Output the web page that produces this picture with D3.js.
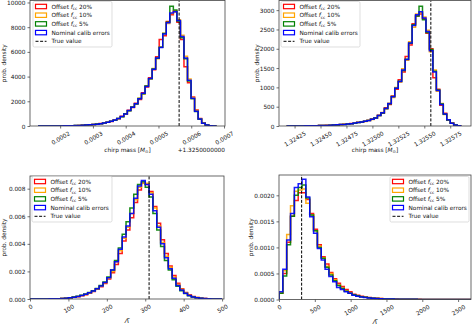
<!DOCTYPE html>
<html><head><meta charset="utf-8">
<script src="https://cdn.jsdelivr.net/npm/d3@7"></script>
<style>body{margin:0;background:#fff}svg{display:block}text{font-family:"DejaVu Sans",sans-serif;fill:#111}</style>
</head><body><svg id="c" width="474" height="326"></svg>
<script>
// ---------- DATA ----------
const legendLabels = ["Offset f_cc 20%", "Offset f_cc 10%", "Offset f_cc 5%", "Nominal calib errors", "True value"];
const seriesColors = ["red", "orange", "green", "blue"];

// Panel 1: chirp mass (offset from 1.325), 50 bins
const p1BinRange = [0.000135, 0.000675];
const p1Red = [2,3,4,5,7,8,11,13,19,25, 30,44,52,75,90,120,145,195,235,310, 370,490,590,780,960,1280,1500,1850,2150,2700, 3150,3900,4550,5600,7000,7300,8450,9000,9300,8400, 7000,4800,3500,2350,1300,600,240,90,30,8];
const p1Orange = [2,3,3,4,6,9,10,15,17,25, 33,40,57,70,95,115,155,185,245,295, 390,470,610,740,1000,1230,1540,1780,2250,2600, 3250,3800,4650,5450,6400,7500,8300,9100,9200,8600, 7350,5650,3800,2300,1250,580,230,85,25,7];
const p1Green = [2,3,3,5,6,8,10,14,19,23, 33,41,56,71,93,117,152,188,242,298, 385,475,605,755,990,1240,1530,1790,2230,2620, 3230,3830,4620,5480,6380,7480,8400,9700,9400,8500, 7150,5450,3650,2200,1180,550,215,78,24,6];
const p1Blue = [2,3,3,5,6,8,10,14,18,24, 32,42,55,72,92,118,150,190,240,300, 380,480,600,760,980,1250,1520,1800,2200,2650, 3200,3850,4600,5500,6350,7450,8350,9150,9250,8550, 7250,5500,3700,2250,1200,560,220,80,25,6];
const p1True = 0.000563;
const p1XTicks = [0.0002, 0.0003, 0.0004, 0.0005, 0.0006, 0.0007];
const p1YTicks = [0, 2000, 4000, 6000, 8000, 10000];

// Panel 2: chirp mass absolute
const p2BinRange = [1.32418, 1.32585];
const p2Red = [1,2,2,3,3,4,6,7,8,11, 12,17,19,26,28,38,44,48,63,72, 95,100,125,140,180,205,280,330,470,560, 780,950,1200,1400,1800,2100,2650,2850,2900,2780, 2400,2000,1250,950,540,330,150,75,22,9];
const p2Orange = [1,1,2,3,3,5,5,7,8,10, 14,15,21,23,31,35,43,52,58,78, 88,108,118,150,170,215,265,350,440,590, 740,1000,1130,1480,1700,2180,2560,2900,2940,2820, 2480,1920,1450,900,580,300,165,68,27,7];
const p2Green = [1,1,2,2,3,4,5,6,9,10, 13,16,20,25,29,37,41,51,61,74, 91,104,122,143,177,208,272,338,455,575, 765,975,1160,1440,1730,2140,2620,2850,3100,2750, 2420,1980,1420,930,570,305,158,72,24,8];
const p2Blue = [1,1,2,2,3,4,5,6,8,10, 13,16,20,24,30,36,42,50,60,75, 90,105,120,145,175,210,270,340,450,580, 760,980,1150,1450,1720,2150,2600,2880,2960,2800, 2450,1950,1400,920,560,310,160,70,25,8];
const p2True = 1.325563;
const p2XTicks = [1.32425, 1.32450, 1.32475, 1.32500, 1.32525, 1.32550, 1.32575];
const p2YTicks = [0, 500, 1000, 1500, 2000, 2500, 3000];

// Panel 3: Lambda-tilde, bins of 10 over 0-500
const p3BinRange = [0, 500];
const p3Red = [0,0,0.000002,0.000003,0.000006,0.000009,0.000014,0.000022,0.000036,0.000055, 0.00008,0.00012,0.00017,0.00024,0.00031,0.00042,0.00054,0.0007,0.00088,0.00112, 0.00145,0.0019,0.0025,0.0033,0.0042,0.005,0.0059,0.007,0.0079,0.0084, 0.0083,0.0078,0.0067,0.0055,0.0043,0.0033,0.0024,0.0017,0.00115,0.00075, 0.00048,0.0003,0.00018,0.00011,0.00006,0.000035,0.000018,0.000008,0.000002,0];
const p3Orange = [0,0,0.000002,0.000004,0.000006,0.00001,0.000015,0.000024,0.000038,0.000058, 0.000088,0.00013,0.00018,0.00025,0.00033,0.00044,0.00057,0.00073,0.00093,0.00118, 0.0015,0.002,0.0027,0.0035,0.0044,0.0052,0.0062,0.0072,0.0081,0.0084, 0.0084,0.0077,0.0066,0.0053,0.0041,0.0031,0.0023,0.0016,0.00105,0.0007, 0.00045,0.00028,0.00016,0.0001,0.000055,0.00003,0.000016,0.000007,0,0];
const p3Green = [0,0,0.000002,0.000004,0.000007,0.000011,0.000017,0.000027,0.000042,0.000063, 0.000095,0.00014,0.0002,0.00027,0.00036,0.00047,0.0006,0.00077,0.00098,0.00124, 0.0016,0.0021,0.0028,0.0037,0.0047,0.0056,0.0066,0.0076,0.0083,0.0085, 0.0081,0.0074,0.0062,0.005,0.0038,0.0028,0.0021,0.0014,0.00092,0.0006, 0.00039,0.00024,0.00014,0.000085,0.000048,0.000027,0.000013,0.000005,0,0];
const p3Blue = [0,0,0.000002,0.000004,0.000006,0.00001,0.000015,0.000025,0.00004,0.00006, 0.00009,0.00013,0.00019,0.00026,0.00034,0.00045,0.00058,0.00075,0.00095,0.0012, 0.00155,0.0021,0.0027,0.0036,0.0045,0.0053,0.0062,0.0073,0.0082,0.0086, 0.0083,0.0076,0.0064,0.0052,0.0040,0.0030,0.0022,0.0015,0.00098,0.00065, 0.00042,0.00026,0.00015,0.00009,0.00005,0.00003,0.000015,0.000006,0,0];
const p3True = 310;
const p3XTicks = [0, 100, 200, 300, 400, 500];
const p3YTicks = [0, 0.002, 0.004, 0.006, 0.008];

// Panel 4: Lambda-tilde wide range
const p4BinRange = [0, 2680];
const p4Red = [0.00012,0.0005,0.0011,0.0016,0.0019,0.00205,0.00205,0.00192,0.00165,0.00135, 0.00105,0.00082,0.00068,0.00052,0.0004,0.00031,0.00025,0.00019,0.00015,0.0001, 0.00008,0.00006,0.00005,0.00004,0.00003,0.000025,0.00002,0.000015,0.000012,0.00001, 0.000008,0.000006,0.000005,0.000004,0.000004,0.000003,0.000003,0.000002,0.000002,0.000002, 0.000001,0.000001,0.000001,0.000001,0.000001,0.000001,0,0,0,0];
const p4Orange = [0.00013,0.00055,0.00125,0.0018,0.00208,0.0021,0.00212,0.00185,0.00162,0.00132, 0.00102,0.0008,0.00064,0.0005,0.00038,0.00028,0.00022,0.00017,0.00013,0.00009, 0.00007,0.000055,0.000045,0.000035,0.000028,0.000022,0.000017,0.000013,0.00001,0.000008, 0.000006,0.000005,0.000004,0.000004,0.000003,0.000003,0.000002,0.000002,0.000002,0.000001, 0.000001,0.000001,0.000001,0.000001,0.000001,0,0,0,0,0];
const p4Green = [0.00012,0.00045,0.00105,0.0016,0.002,0.00215,0.0022,0.00195,0.00162,0.00132, 0.001,0.00079,0.00062,0.00047,0.00036,0.00027,0.00021,0.00016,0.00012,0.00009, 0.00007,0.000055,0.000042,0.000032,0.000026,0.00002,0.000016,0.000012,0.00001,0.000008, 0.000006,0.000005,0.000004,0.000004,0.000003,0.000003,0.000002,0.000002,0.000002,0.000001, 0.000001,0.000001,0.000001,0.000001,0.000001,0,0,0,0,0];
const p4Blue = [0.00015,0.00058,0.00114,0.00165,0.00215,0.00222,0.00231,0.00197,0.00159,0.00127, 0.00098,0.00076,0.00058,0.00044,0.00034,0.00023,0.00019,0.00015,0.00012,0.00008, 0.00006,0.00005,0.00004,0.00003,0.000025,0.00002,0.000015,0.000012,0.00001,0.000008, 0.000006,0.000005,0.000004,0.000004,0.000003,0.000003,0.000002,0.000002,0.000002,0.000001, 0.000001,0.000001,0.000001,0.000001,0.000001,0,0,0,0,0];
const p4True = 316;
const p4XTicks = [0, 500, 1000, 1500, 2000, 2500];
const p4YTicks = [0, 0.0005, 0.001, 0.0015, 0.002];

// ---------- LAYOUT ----------
const FS = 5.8;
const ROT = 30;
const panels = [
  {L:30, R:225, T:0.5, B:126, xDom:[0.000108,0.000703], yDom:[0,10160], bins:p1BinRange,
   series:[p1Red,p1Orange,p1Green,p1Blue], truth:p1True, xTicks:p1XTicks, xFmt:d3.format(".4f"),
   yTicks:p1YTicks, yFmt:d3.format("d"), xlabel:"chirp", offset:"+1.3250000000",
   ylabX:3.5, leg:{x:33, y:1.5, w:79}},
  {L:279, R:471, T:0.5, B:126, xDom:[1.32410,1.32595], yDom:[0,3250], bins:p2BinRange,
   series:[p2Red,p2Orange,p2Green,p2Blue], truth:p2True, xTicks:p2XTicks, xFmt:d3.format(".5f"),
   yTicks:p2YTicks, yFmt:d3.format("d"), xlabel:"chirp", offset:null,
   ylabX:256.5, leg:{x:281, y:1.5, w:79}},
  {L:30, R:224, T:176, B:299, xDom:[0,505], yDom:[0,0.00892], bins:p3BinRange,
   series:[p3Red,p3Orange,p3Green,p3Blue], truth:p3True, xTicks:p3XTicks, xFmt:d3.format("d"),
   yTicks:p3YTicks, yFmt:d3.format(".3f"), xlabel:"lambda", offset:null,
   ylabX:4, leg:{x:32, y:176.5, w:80}},
  {L:279, R:471, T:175, B:299.5, xDom:[0,2680], yDom:[0,0.00239], bins:p4BinRange,
   series:[p4Red,p4Orange,p4Green,p4Blue], truth:p4True, xTicks:p4XTicks, xFmt:d3.format("d"),
   yTicks:p4YTicks, yFmt:d3.format(".4f"), xlabel:"lambda", offset:null,
   ylabX:251, leg:{x:390, y:176.5, w:79}}
];

const svg = d3.select("#c");
const defs = svg.append("defs");

function addLabelTspans(sel, label) {
  const m = label.match(/^(.*?)f_cc(.*)$/);
  if (m) {
    sel.append("tspan").text(m[1]);
    sel.append("tspan").attr("font-style","italic").text("f");
    sel.append("tspan").attr("font-size", FS*0.7).attr("dy", FS*0.25).text("cc");
    sel.append("tspan").attr("dy", -FS*0.25).text(m[2]);
  } else sel.text(label);
}

panels.forEach((p, pi) => {
  const x = d3.scaleLinear().domain(p.xDom).range([p.L, p.R]);
  const y = d3.scaleLinear().domain(p.yDom).range([p.B, p.T]);
  const g = svg.append("g");
  const cid = "clip" + pi;
  defs.append("clipPath").attr("id", cid).append("rect")
    .attr("x", p.L).attr("y", p.T).attr("width", p.R - p.L).attr("height", p.B - p.T);

  const n = p.series[0].length;
  const edges = d3.range(n + 1).map(i => p.bins[0] + i * (p.bins[1] - p.bins[0]) / n);
  const line = d3.line().x(d => x(d[0])).y(d => y(d[1]));
  const hg = g.append("g").attr("clip-path", `url(#${cid})`);
  p.series.forEach((vals, k) => {
    const pts = [[edges[0], 0]];
    vals.forEach((v, j) => { pts.push([edges[j], v]); pts.push([edges[j + 1], v]); });
    pts.push([edges[n], 0]);
    hg.append("path").attr("d", line(pts)).attr("fill", "none")
      .attr("stroke", seriesColors[k]).attr("stroke-width", 1.5)
      .attr("stroke-linejoin", "miter").attr("stroke-opacity", 0.9);
  });
  // true value
  hg.append("line").attr("x1", x(p.truth)).attr("x2", x(p.truth))
    .attr("y1", p.B).attr("y2", p.T).attr("stroke", "#000")
    .attr("stroke-width", 1).attr("stroke-dasharray", "3,1.6");

  // axes
  const xa = g.append("g").attr("transform", `translate(0,${p.B})`)
    .call(d3.axisBottom(x).tickValues(p.xTicks).tickFormat(p.xFmt).tickSize(2.5).tickPadding(2));
  const ya = g.append("g").attr("transform", `translate(${p.L},0)`)
    .call(d3.axisLeft(y).tickValues(p.yTicks).tickFormat(p.yFmt).tickSize(2.5).tickPadding(2));
  [xa, ya].forEach(a => {
    a.select(".domain").remove();
    a.selectAll("line").attr("stroke", "#333").attr("stroke-width", 0.7);
    a.selectAll("text").attr("font-size", FS).attr("fill", "#111")
      .style("font-family", '"DejaVu Sans", sans-serif');
  });
  const rad = ROT * Math.PI / 180;
  xa.selectAll("text").each(function () {
    const t = d3.select(this);
    const len = this.getComputedTextLength();
    const off = 4.5 + (len * Math.sin(rad) + FS * Math.cos(rad)) / 2;
    t.attr("y", 0).attr("dy", "0.35em").attr("text-anchor", "middle")
      .attr("transform", `translate(0,${off}) rotate(${-ROT})`);
  });
  ya.selectAll("text").attr("dy", "0.35em");

  // spines
  g.append("rect").attr("x", p.L).attr("y", p.T).attr("width", p.R - p.L).attr("height", p.B - p.T)
    .attr("fill", "none").attr("stroke", "#444").attr("stroke-width", 0.8);

  // labels
  const cx = (p.L + p.R) / 2;
  if (p.xlabel === "chirp") {
    const t = g.append("text").attr("x", cx).attr("y", p.B + 26).attr("text-anchor", "middle").attr("font-size", FS);
    t.append("tspan").text("chirp mass [");
    t.append("tspan").attr("font-style", "italic").text("M");
    t.append("tspan").attr("font-size", FS * 0.7).attr("dy", FS * 0.25).text("\u2299");
    t.append("tspan").attr("dy", -FS * 0.25).text("]");
  } else {
    g.append("text").attr("x", cx).attr("y", p.B + 24).attr("text-anchor", "middle")
      .attr("font-size", FS + 0.5).attr("font-style", "italic").text("\u039B\u0303");
  }
  if (p.offset) {
    g.append("text").attr("x", p.R).attr("y", p.B + 26).attr("text-anchor", "end")
      .attr("font-size", FS).text(p.offset);
  }
  g.append("text").attr("transform", `translate(${p.ylabX},${(p.T + p.B) / 2}) rotate(-90)`)
    .attr("text-anchor", "middle").attr("dy", "0.35em").attr("font-size", FS).text("prob. density");

  // legend
  const lg = g.append("g");
  const rowH = 8.7, lh = 5 * rowH + 2;
  lg.append("rect").attr("x", p.leg.x).attr("y", p.leg.y).attr("width", p.leg.w).attr("height", lh)
    .attr("rx", 1.5).attr("fill", "#fff").attr("fill-opacity", 0.85)
    .attr("stroke", "#d0d0d0").attr("stroke-width", 0.7);
  legendLabels.forEach((lab, k) => {
    const yy = p.leg.y + 5 + k * rowH;
    if (k < 4) {
      lg.append("rect").attr("x", p.leg.x + 2.5).attr("y", yy - 2.2).attr("width", 11).attr("height", 4.4)
        .attr("fill", "none").attr("stroke", seriesColors[k]).attr("stroke-width", 1.2);
    } else {
      lg.append("line").attr("x1", p.leg.x + 2.5).attr("x2", p.leg.x + 13.5).attr("y1", yy).attr("y2", yy)
        .attr("stroke", "#000").attr("stroke-width", 1).attr("stroke-dasharray", "3,1.6");
    }
    const t = lg.append("text").attr("x", p.leg.x + 18.5).attr("y", yy).attr("dy", "0.35em").attr("font-size", FS);
    addLabelTspans(t, lab);
  });
});
</script></body></html>
